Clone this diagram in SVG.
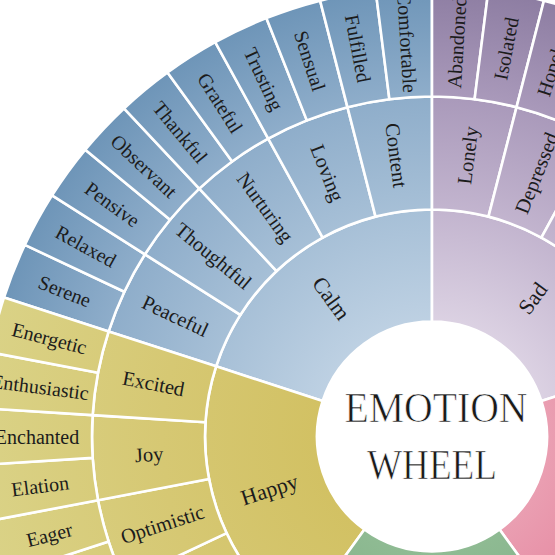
<svg xmlns="http://www.w3.org/2000/svg" xmlns:xlink="http://www.w3.org/1999/xlink" width="555" height="555" viewBox="0 0 555 555">
<defs>
<style>
.c{stroke:#fff;stroke-width:2.6;stroke-linejoin:round}
text{font-family:"Liberation Serif","Times New Roman",serif;fill:#1c1c1c;text-anchor:middle}
.o{font-size:20px}
.m{font-size:20.5px}
.i{font-size:22px}
.title{font-size:42px;fill:#1a1a1a;stroke:#fff;stroke-width:0.7}
</style>
<radialGradient id="gCalm" gradientUnits="userSpaceOnUse" cx="0" cy="0" r="450">
<stop offset="0.25" stop-color="#bed1e3"/>
<stop offset="0.5" stop-color="#a7c0d7"/>
<stop offset="0.76" stop-color="#8eadca"/>
<stop offset="1" stop-color="#6e95b8"/>
</radialGradient>
<radialGradient id="gSad" gradientUnits="userSpaceOnUse" cx="0" cy="0" r="450">
<stop offset="0.25" stop-color="#dcd2e3"/>
<stop offset="0.5" stop-color="#c3b5cf"/>
<stop offset="0.76" stop-color="#a999ba"/>
<stop offset="1" stop-color="#8d7da2"/>
</radialGradient>
<radialGradient id="gHappy" gradientUnits="userSpaceOnUse" cx="0" cy="0" r="450">
<stop offset="0.25" stop-color="#d2c163"/>
<stop offset="0.6" stop-color="#d6c873"/>
<stop offset="1" stop-color="#dad286"/>
</radialGradient>
<radialGradient id="gPink" gradientUnits="userSpaceOnUse" cx="0" cy="0" r="227">
<stop offset="0.5" stop-color="#ea9fb2"/>
<stop offset="1" stop-color="#e5849d"/>
</radialGradient>
<radialGradient id="gGreen" gradientUnits="userSpaceOnUse" cx="0" cy="0" r="227">
<stop offset="0.5" stop-color="#8fbb93"/>
<stop offset="1" stop-color="#7fae86"/>
</radialGradient>
<path id="cellO" d="M340 0 L450 0 A450 450 0 0 1 446.45 56.40 L337.32 42.61 A340 340 0 0 0 340 0Z"/>
<path id="cellM" d="M227 0 L340 0 A340 340 0 0 1 329.32 84.55 L219.87 56.45 A227 227 0 0 0 227 0Z"/>
<path id="cellI" d="M115 0 L227 0 A227 227 0 0 1 70.15 215.89 L35.54 109.37 A115 115 0 0 0 115 0Z"/>
</defs>
<rect width="555" height="555" fill="#fff"/>

<g id="calm-family" transform="translate(432 436.5)" fill="url(#gCalm)">
<g id="calm" transform="rotate(198)"><use href="#cellI" class="c"/><text class="i" transform="rotate(36) translate(171 0) rotate(180)" dy="0.35em">Calm</text></g>
<g id="peaceful" transform="rotate(198)"><use href="#cellM" class="c"/><text class="m" transform="rotate(7.2) translate(283.5 0) rotate(180)" dy="0.35em">Peaceful</text></g>
<g id="thoughtful" transform="rotate(212.4)"><use href="#cellM" class="c"/><text class="m" transform="rotate(7.2) translate(283.5 0) rotate(180)" dy="0.35em">Thoughtful</text></g>
<g id="nurturing" transform="rotate(226.8)"><use href="#cellM" class="c"/><text class="m" transform="rotate(7.2) translate(283.5 0) rotate(180)" dy="0.35em">Nurturing</text></g>
<g id="loving" transform="rotate(241.2)"><use href="#cellM" class="c"/><text class="m" transform="rotate(7.2) translate(283.5 0) rotate(180)" dy="0.35em">Loving</text></g>
<g id="content" transform="rotate(255.6)"><use href="#cellM" class="c"/><text class="m" transform="rotate(7.2) translate(283.5 0) rotate(180)" dy="0.35em">Content</text></g>
<g id="serene" transform="rotate(198)"><use href="#cellO" class="c"/><text class="o" transform="rotate(3.6) translate(395 0) rotate(180)" dy="0.35em">Serene</text></g>
<g id="relaxed" transform="rotate(205.2)"><use href="#cellO" class="c"/><text class="o" transform="rotate(3.6) translate(395 0) rotate(180)" dy="0.35em">Relaxed</text></g>
<g id="pensive" transform="rotate(212.4)"><use href="#cellO" class="c"/><text class="o" transform="rotate(3.6) translate(395 0) rotate(180)" dy="0.35em">Pensive</text></g>
<g id="observant" transform="rotate(219.6)"><use href="#cellO" class="c"/><text class="o" transform="rotate(3.6) translate(395 0) rotate(180)" dy="0.35em">Observant</text></g>
<g id="thankful" transform="rotate(226.8)"><use href="#cellO" class="c"/><text class="o" transform="rotate(3.6) translate(395 0) rotate(180)" dy="0.35em">Thankful</text></g>
<g id="grateful" transform="rotate(234)"><use href="#cellO" class="c"/><text class="o" transform="rotate(3.6) translate(395 0) rotate(180)" dy="0.35em">Grateful</text></g>
<g id="trusting" transform="rotate(241.2)"><use href="#cellO" class="c"/><text class="o" transform="rotate(3.6) translate(395 0) rotate(180)" dy="0.35em">Trusting</text></g>
<g id="sensual" transform="rotate(248.4)"><use href="#cellO" class="c"/><text class="o" transform="rotate(3.6) translate(395 0) rotate(180)" dy="0.35em">Sensual</text></g>
<g id="fulfilled" transform="rotate(255.6)"><use href="#cellO" class="c"/><text class="o" transform="rotate(3.6) translate(395 0) rotate(180)" dy="0.35em">Fulfilled</text></g>
<g id="comfortable" transform="rotate(262.8)"><use href="#cellO" class="c"/><text class="o" transform="rotate(3.6) translate(395 0) rotate(180)" dy="0.35em">Comfortable</text></g>
</g>

<g id="happy-family" transform="translate(432 436.5)" fill="url(#gHappy)">
<g id="happy" transform="rotate(126)"><use href="#cellI" class="c"/><text class="i" transform="rotate(36) translate(171 0) rotate(180)" dy="0.35em">Happy</text></g>
<g id="happy-mid-4" transform="rotate(140.4)"><use href="#cellM" class="c"/></g>
<g id="optimistic" transform="rotate(154.8)"><use href="#cellM" class="c"/><text class="m" transform="rotate(7.2) translate(283.5 0) rotate(180)" dy="0.35em">Optimistic</text></g>
<g id="joy" transform="rotate(169.2)"><use href="#cellM" class="c"/><text class="m" transform="rotate(7.2) translate(283.5 0) rotate(180)" dy="0.35em">Joy</text></g>
<g id="excited" transform="rotate(183.6)"><use href="#cellM" class="c"/><text class="m" transform="rotate(7.2) translate(283.5 0) rotate(180)" dy="0.35em">Excited</text></g>
<g id="happy-outer-6" transform="rotate(154.8)"><use href="#cellO" class="c"/></g>
<g id="eager" transform="rotate(162)"><use href="#cellO" class="c"/><text class="o" transform="rotate(3.6) translate(395 0) rotate(180)" dy="0.35em">Eager</text></g>
<g id="elation" transform="rotate(169.2)"><use href="#cellO" class="c"/><text class="o" transform="rotate(3.6) translate(395 0) rotate(180)" dy="0.35em">Elation</text></g>
<g id="enchanted" transform="rotate(176.4)"><use href="#cellO" class="c"/><text class="o" transform="rotate(3.6) translate(395 0) rotate(180)" dy="0.35em">Enchanted</text></g>
<g id="enthusiastic" transform="rotate(183.6)"><use href="#cellO" class="c"/><text class="o" transform="rotate(3.6) translate(395 0) rotate(180)" dy="0.35em">Enthusiastic</text></g>
<g id="energetic" transform="rotate(190.8)"><use href="#cellO" class="c"/><text class="o" transform="rotate(3.6) translate(395 0) rotate(180)" dy="0.35em">Energetic</text></g>
</g>

<g id="sad-family" transform="translate(432 436.5)" fill="url(#gSad)">
<g id="sad" transform="rotate(270)"><use href="#cellI" class="c"/><text class="i" transform="rotate(36) translate(171 0)" dy="0.35em">Sad</text></g>
<g id="lonely" transform="rotate(270)"><use href="#cellM" class="c"/><text class="m" transform="rotate(7.2) translate(283.5 0)" dy="0.35em">Lonely</text></g>
<g id="depressed" transform="rotate(284.4)"><use href="#cellM" class="c"/><text class="m" transform="rotate(7.2) translate(283.5 0)" dy="0.35em">Depressed</text></g>
<g id="sad-mid-3" transform="rotate(298.8)"><use href="#cellM" class="c"/></g>
<g id="abandoned" transform="rotate(270)"><use href="#cellO" class="c"/><text class="o" transform="rotate(3.6) translate(395 0)" dy="0.35em">Abandoned</text></g>
<g id="isolated" transform="rotate(277.2)"><use href="#cellO" class="c"/><text class="o" transform="rotate(3.6) translate(395 0)" dy="0.35em">Isolated</text></g>
<g id="hopeless" transform="rotate(284.4)"><use href="#cellO" class="c"/><text class="o" transform="rotate(3.6) translate(395 0)" dy="0.35em">Hopeless</text></g>
</g>

<g id="pink-family" transform="translate(432 436.5)" fill="url(#gPink)">
<g id="pink-inner" transform="rotate(342)"><use href="#cellI" class="c"/></g>
</g>
<g id="green-family" transform="translate(432 436.5)" fill="url(#gGreen)">
<g id="green-inner" transform="rotate(54)"><use href="#cellI" class="c"/></g>
</g>

<g id="center">
<circle cx="432" cy="436.5" r="115.5" fill="#fff"/>
<text class="title" x="436" y="421.5" textLength="183" lengthAdjust="spacingAndGlyphs">EMOTION</text>
<text class="title" x="432" y="479" textLength="130" lengthAdjust="spacingAndGlyphs">WHEEL</text>
</g>
</svg>
